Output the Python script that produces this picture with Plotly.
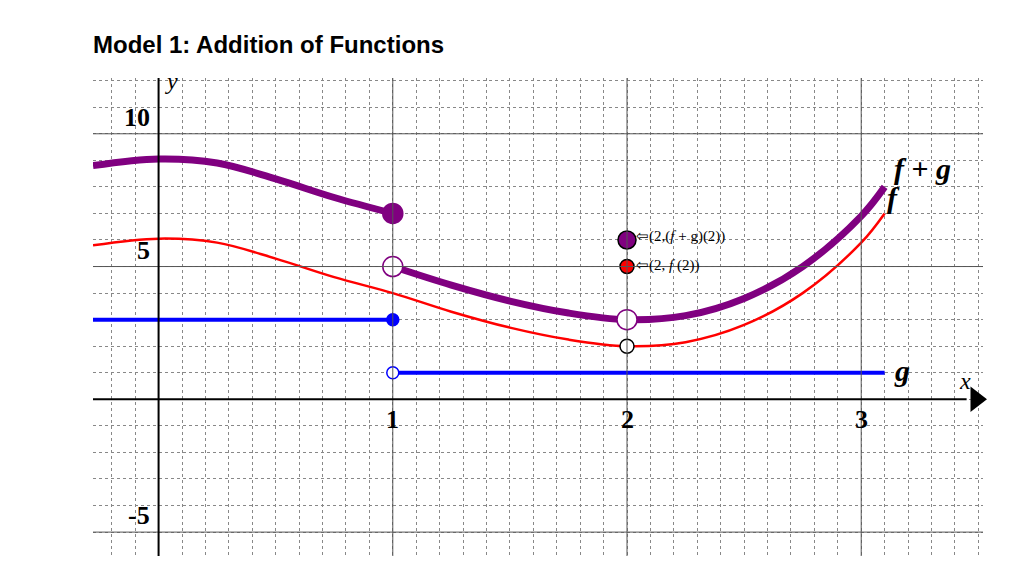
import plotly.graph_objects as go
import numpy as np

# f
f_x = [-0.28, 0.0, 0.25, 0.5, 0.75, 1.0, 1.25, 1.5, 1.75, 2.0, 2.25, 2.5, 2.75, 3.0, 3.1]
f_y = [5.8, 6.05, 5.9, 5.3, 4.6, 4.0, 3.3, 2.7, 2.25, 2.0, 2.15, 2.8, 4.0, 5.9, 7.0]
g_left, g_right = 3, 1
y_ticks = [10, 5, -5]
x_ticks = [1, 2, 3]

fx = np.array(f_x)
fy = np.array(f_y)
left = fx <= 1
right = fx >= 1

fig = go.Figure()
RED, BLUE, PURPLE = "#ff0000", "#0000ff", "#800080"

shapes = []
for v in [1, 2, 3]:
    shapes.append(dict(type="line", x0=v, x1=v, y0=-5.9, y1=12.1, line=dict(color="#555", width=1)))
for v in [5, 10, -5]:
    shapes.append(dict(type="line", x0=-0.28, x1=3.52, y0=v, y1=v, line=dict(color="#555", width=1)))
shapes.append(dict(type="line", x0=-0.28, x1=3.45, y0=0, y1=0, line=dict(color="black", width=2)))
shapes.append(dict(type="line", x0=0, x1=0, y0=-6.2, y1=12.6, line=dict(color="black", width=2)))

fig.add_trace(go.Scatter(x=fx, y=fy, mode="lines", line=dict(color=RED, width=2.5, shape="spline")))
fig.add_trace(go.Scatter(x=fx[left], y=fy[left] + g_left, mode="lines", line=dict(color=PURPLE, width=7, shape="spline")))
fig.add_trace(go.Scatter(x=fx[right], y=fy[right] + g_right, mode="lines", line=dict(color=PURPLE, width=7, shape="spline")))
fig.add_trace(go.Scatter(x=[-0.28, 1], y=[g_left, g_left], mode="lines", line=dict(color=BLUE, width=4)))
fig.add_trace(go.Scatter(x=[1, 3.1], y=[g_right, g_right], mode="lines", line=dict(color=BLUE, width=4)))

f1 = np.interp(1, f_x, f_y)
f2 = np.interp(2, f_x, f_y)
pts = [
    (1, f1 + g_left, PURPLE, PURPLE, 20),
    (1, f1 + g_right, "white", PURPLE, 20),
    (1, g_left, BLUE, BLUE, 12),
    (1, g_right, "white", BLUE, 12),
    (2, f2 + g_right, "white", PURPLE, 20),
    (2, f2, "white", "black", 14),
    (2, 6, PURPLE, "black", 18),
    (2, 5, RED, "black", 14),
]
for x, y, fc, lc, s in pts:
    fig.add_trace(go.Scatter(x=[x], y=[y], mode="markers",
                             marker=dict(size=s, color=fc, line=dict(color=lc, width=1.5))))

# axis arrows
fig.add_trace(go.Scatter(x=[3.49], y=[0], mode="markers", cliponaxis=False,
                         marker=dict(symbol="triangle-right", size=22, color="black")))
fig.add_trace(go.Scatter(x=[0], y=[12.9], mode="markers", cliponaxis=False,
                         marker=dict(symbol="triangle-up", size=22, color="black")))

serif = "Times New Roman, Liberation Serif, serif"
ann = []
for t in y_ticks:
    ann.append(dict(x=-0.03, y=t, text=f"<b>{t}</b>", xanchor="right", yanchor="bottom",
                    font=dict(family=serif, size=26, color="black")))
for t in x_ticks:
    ann.append(dict(x=t, y=-0.15, text=f"<b>{t}</b>", xanchor="center", yanchor="top",
                    font=dict(family=serif, size=26, color="black")))
ann += [
    dict(x=3.13, y=8.7, text="<b><i>f</i> + <i>g</i></b>", xanchor="left", font=dict(family=serif, size=30, color="black")),
    dict(x=3.1, y=7.6, text="<b><i>f</i></b>", xanchor="left", font=dict(family=serif, size=30, color="black")),
    dict(x=3.13, y=1.1, text="<b><i>g</i></b>", xanchor="left", font=dict(family=serif, size=30, color="black")),
    dict(x=3.41, y=0.7, text="<i>x</i>", xanchor="left", font=dict(family=serif, size=24, color="black")),
    dict(x=0.02, y=12.0, text="<i>y</i>", xanchor="left", font=dict(family=serif, size=24, color="black")),
    dict(x=2.03, y=6.15, text="⇦(2,(<i>f</i> + g)(2))", xanchor="left", font=dict(family=serif, size=15, color="black")),
    dict(x=2.03, y=5.05, text="⇦(2, <i>f</i> (2))", xanchor="left", font=dict(family=serif, size=15, color="black")),
]
for a in ann:
    a["showarrow"] = False

fig.update_layout(
    width=1024, height=568, plot_bgcolor="white", paper_bgcolor="white",
    margin=dict(l=85, r=49, t=70, b=20, autoexpand=False), showlegend=False,
    shapes=shapes, annotations=ann,
    title=dict(text="<b>Model 1: Addition of Functions</b>", x=0.083, y=0.95, xanchor="left",
               font=dict(family="Liberation Sans, Arial", size=24, color="black")),
)
fig.update_xaxes(range=[-0.28, 3.52], dtick=0.1, showticklabels=False, zeroline=False, ticks="",
                 showgrid=True, gridcolor="#888", griddash="dot", gridwidth=1)
fig.update_yaxes(range=[-5.9, 12.1], dtick=1, showticklabels=False, zeroline=False, ticks="",
                 showgrid=True, gridcolor="#888", griddash="dot", gridwidth=1)

fig.write_html("out.html")
